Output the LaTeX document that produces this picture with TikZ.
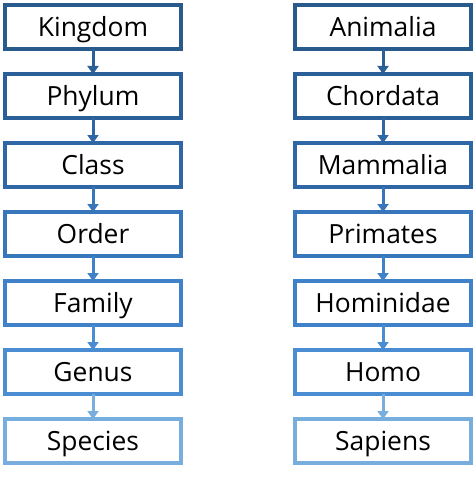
\documentclass[tikz,border=0pt]{standalone}
\usepackage{fontspec}
\setmainfont{Open Sans}
\usepackage{tikz}
\usetikzlibrary{positioning,arrows.meta}
\usepackage{xcolor}
\definecolor{rankOne}{HTML}{285A8C}
\definecolor{rankTwo}{HTML}{2B5F97}
\definecolor{rankThree}{HTML}{2F67A6}
\definecolor{rankFour}{HTML}{3876BC}
\definecolor{rankFive}{HTML}{3F82C9}
\definecolor{rankSix}{HTML}{4A8DD3}
\definecolor{rankSeven}{HTML}{78AEDE}
\tikzset{
  rankbox/.style = {draw=#1, line width=4bp, fill=white, outer sep=0pt,
                    minimum width=176bp, minimum height=44bp, inner sep=0pt,
                    text height=19bp, text depth=0bp,
                    font=\fontsize{26.5}{30}\selectfont, text=black},
  down/.style    = {-{Triangle[length=8bp,width=11bp]}, line width=3bp, draw=#1},
}
\begin{document}
\begin{tikzpicture}[x=1bp, y=-1bp, node distance=25bp]
  \useasboundingbox (0,0) rectangle (474,479);

  % taxonomic ranks
  \node[rankbox=rankOne]   (kingdom) at (93,27) {Kingdom};
  \node[rankbox=rankTwo,   below=of kingdom] (phylum)  {Phylum};
  \node[rankbox=rankThree, below=of phylum]  (class)   {Class};
  \node[rankbox=rankFour,  below=of class]   (order)   {Order};
  \node[rankbox=rankFive,  below=of order]   (family)  {Family};
  \node[rankbox=rankSix,   below=of family]  (genus)   {Genus};
  \node[rankbox=rankSeven, below=of genus]   (species) {Species};

  % the human example
  \node[rankbox=rankOne,   right=114bp of kingdom] (animalia)  {Animalia};
  \node[rankbox=rankTwo,   below=of animalia]  (chordata)  {Chordata};
  \node[rankbox=rankThree, below=of chordata]  (mammalia)  {Mammalia};
  \node[rankbox=rankFour,  below=of mammalia]  (primates)  {Primates};
  \node[rankbox=rankFive,  below=of primates]  (hominidae) {Hominidae};
  \node[rankbox=rankSix,   below=of hominidae] (homo)      {Homo};
  \node[rankbox=rankSeven, below=of homo]      (sapiens)   {Sapiens};

  \draw[down=rankTwo]   (kingdom) -- (phylum);
  \draw[down=rankThree] (phylum)  -- (class);
  \draw[down=rankFour]  (class)   -- (order);
  \draw[down=rankFive]  (order)   -- (family);
  \draw[down=rankSix]   (family)  -- (genus);
  \draw[down=rankSeven] (genus)   -- (species);

  \draw[down=rankTwo]   (animalia)  -- (chordata);
  \draw[down=rankThree] (chordata)  -- (mammalia);
  \draw[down=rankFour]  (mammalia)  -- (primates);
  \draw[down=rankFive]  (primates)  -- (hominidae);
  \draw[down=rankSix]   (hominidae) -- (homo);
  \draw[down=rankSeven] (homo)      -- (sapiens);
\end{tikzpicture}
\end{document}
